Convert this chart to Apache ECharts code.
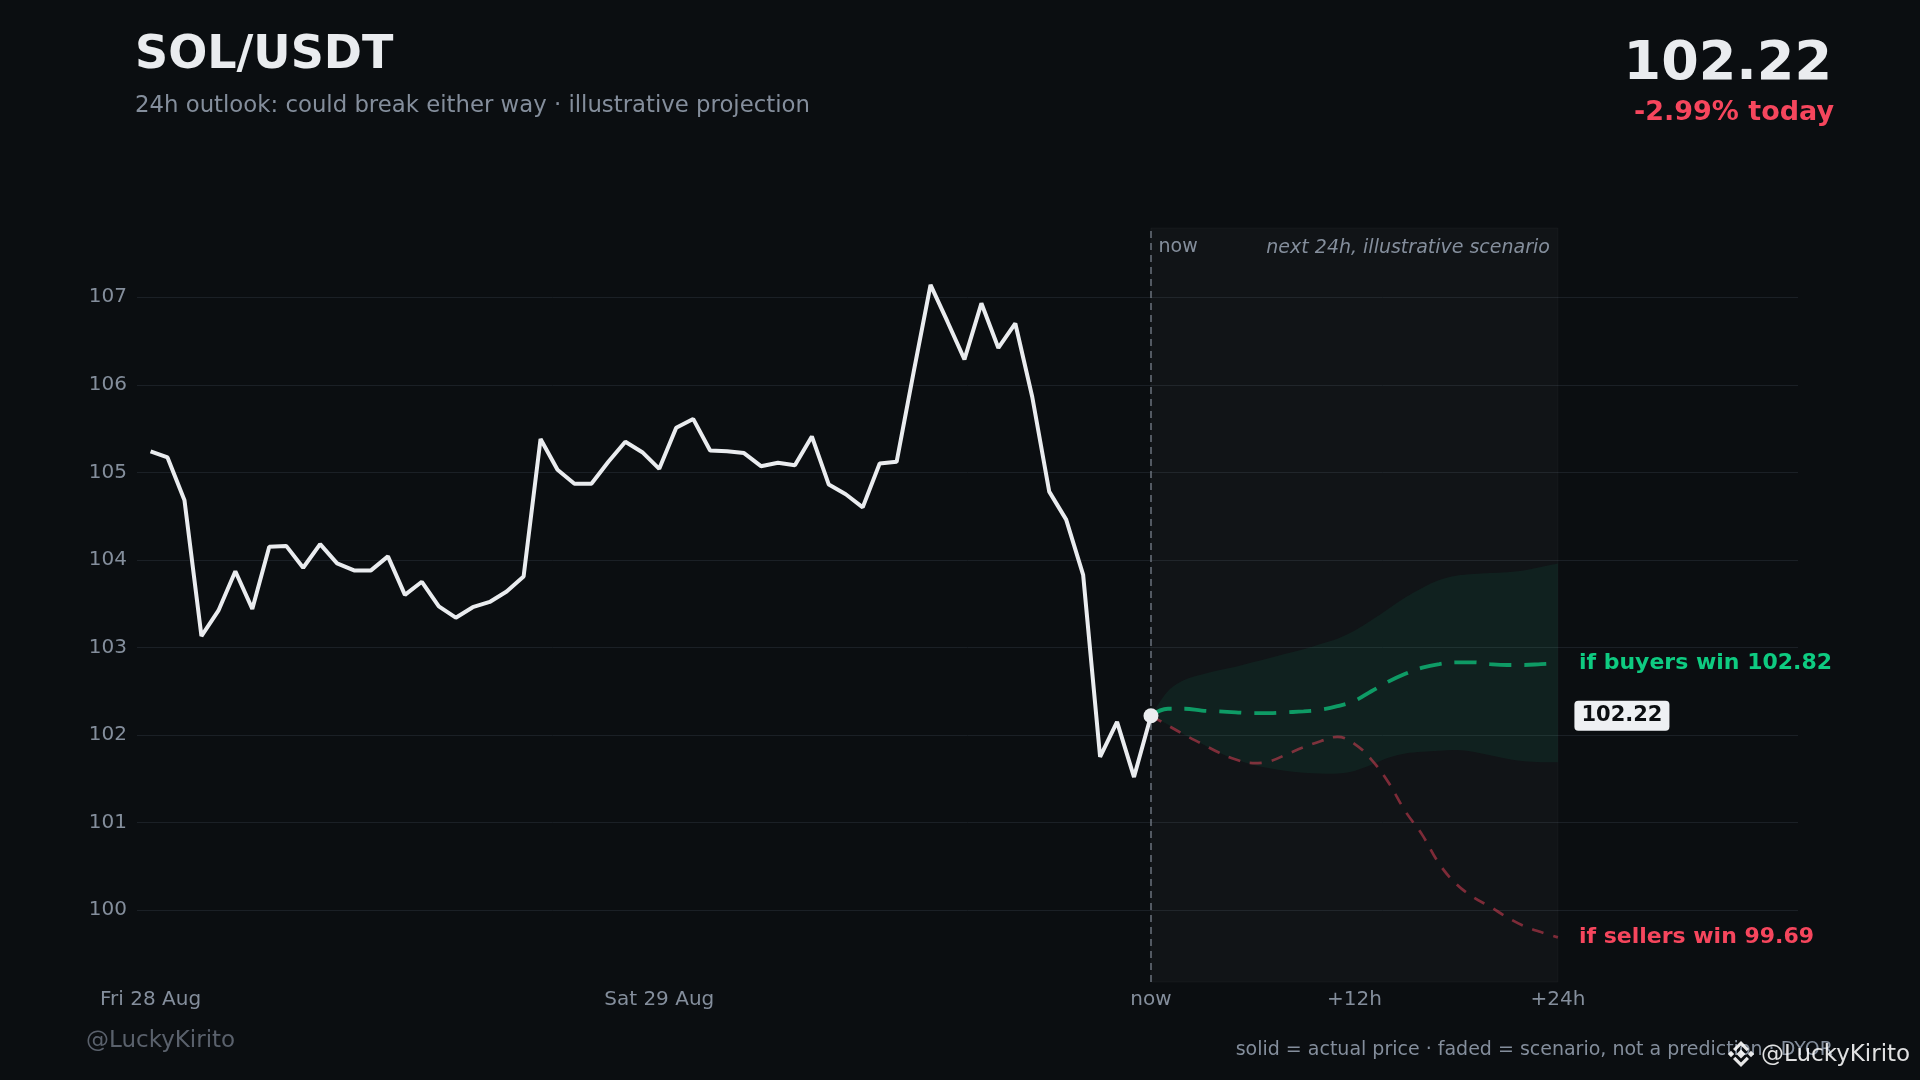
<!DOCTYPE html>
<html><head><meta charset="utf-8">
<script src="https://cdn.jsdelivr.net/npm/echarts@6/dist/echarts.min.js"></script>
<style>html,body{margin:0;padding:0;background:#0b0e11;}#c{width:1920px;height:1080px;}</style>
</head><body><div id="c"></div>
<script>
// ---- data ----
const pairName = 'SOL/USDT';
const subtitleText = '24h outlook: could break either way · illustrative projection';
const changeText = '-2.99% today';
const priceValues = [
  105.24,105.17,104.68,103.13,103.42,103.87,103.44,104.15,104.16,103.91,
  104.18,103.96,103.88,103.88,104.04,103.60,103.75,103.47,103.34,103.46,
  103.52,103.64,103.81,105.38,105.03,104.87,104.87,105.12,105.35,105.23,
  105.04,105.51,105.61,105.25,105.24,105.22,105.07,105.11,105.08,105.41,
  104.86,104.75,104.60,105.10,105.12,106.14,107.14,106.72,106.29,106.93,
  106.42,106.70,105.86,104.78,104.46,103.83,101.75,102.15,101.52,102.22
];
const futureHours = [0,1,2,3,4,5,6,7,8,9,10,11,12,13,14,15,16,17,18,19,20,21,22,23,24];
const buyersPath = [
  102.22,102.30,102.30,102.28,102.27,102.26,102.25,102.25,102.26,102.27,
  102.29,102.33,102.39,102.50,102.61,102.70,102.77,102.81,102.83,102.83,
  102.81,102.80,102.80,102.81,102.82
];
const sellersPath = [
  102.22,102.11,102.00,101.90,101.80,101.72,101.68,101.70,101.78,101.86,
  101.93,101.98,101.90,101.72,101.46,101.13,100.86,100.53,100.30,100.15,
  100.04,99.92,99.82,99.75,99.69
];
const bandUpper = [
  102.22,102.50,102.63,102.69,102.74,102.78,102.83,102.88,102.93,102.98,
  103.04,103.10,103.19,103.31,103.44,103.57,103.68,103.77,103.82,103.84,
  103.85,103.86,103.88,103.92,103.96
];
const bandLower = [
  102.22,102.12,102.00,101.90,101.80,101.72,101.66,101.62,101.59,101.57,
  101.56,101.56,101.59,101.66,101.74,101.79,101.81,101.82,101.83,101.81,
  101.77,101.73,101.70,101.69,101.69
];
const xTickValues = [0, 30, 59, 71, 83];
const xTickLabels = ['Fri 28 Aug', 'Sat 29 Aug', 'now', '+12h', '+24h'];
const yTickValues = [100, 101, 102, 103, 104, 105, 106, 107];

// ---- chart ----
const FONT = '"DejaVu Sans"';
const nowIndex = priceValues.length - 1;
const lastPrice = priceValues[nowIndex];
const endIndex = nowIndex + futureHours[futureHours.length - 1];
const fut = arr => arr.map((v, h) => [nowIndex + futureHours[h], v]);

function smoothSegs(pts) {
  let d = '';
  for (let i = 0; i < pts.length - 1; i++) {
    const p0 = pts[Math.max(i - 1, 0)], p1 = pts[i], p2 = pts[i + 1], p3 = pts[Math.min(i + 2, pts.length - 1)];
    const t = 1 / 6;
    const c1 = [p1[0] + (p2[0] - p0[0]) * t, p1[1] + (p2[1] - p0[1]) * t];
    const c2 = [p2[0] - (p3[0] - p1[0]) * t, p2[1] - (p3[1] - p1[1]) * t];
    d += ' C' + c1[0] + ',' + c1[1] + ' ' + c2[0] + ',' + c2[1] + ' ' + p2[0] + ',' + p2[1];
  }
  return d;
}

const chart = echarts.init(document.getElementById('c'), null, {renderer: 'canvas'});
const option = {
  backgroundColor: '#0b0e11',
  animation: false,
  textStyle: {fontFamily: 'DejaVu Sans'},
  grid: {left: 137, right: 122, top: 228, bottom: 98},
  xAxis: {
    type: 'value', min: -0.8, max: 97.16,
    axisLine: {show: false}, axisTick: {show: false, customValues: xTickValues},
    splitLine: {show: false},
    axisLabel: {
      customValues: xTickValues,
      formatter: v => { const i = xTickValues.indexOf(v); return i >= 0 ? xTickLabels[i] : ''; },
      color: '#848e9c', fontSize: 20, margin: 8, fontFamily: 'DejaVu Sans'
    }
  },
  yAxis: {
    type: 'value', min: 99.18, max: 107.79,
    axisLine: {show: false},
    axisTick: {show: false, customValues: yTickValues},
    splitLine: {show: true, customValues: yTickValues, lineStyle: {color: '#1b2026', width: 1}},
    axisLabel: {customValues: yTickValues, color: '#848e9c', fontSize: 20, margin: 10,
      padding: [5, 0, 0, 0], fontFamily: 'DejaVu Sans'}
  },
  series: [
    {
      name: 'region', type: 'line', data: [], z: 1, silent: true,
      markArea: {
        silent: true,
        itemStyle: {color: 'rgba(255,255,255,0.028)', borderColor: 'rgba(255,255,255,0.03)', borderWidth: 1},
        label: {show: true, position: 'insideTopLeft', formatter: 'now', color: '#848e9c',
          fontSize: 19, distance: 8, lineHeight: 24, fontFamily: 'DejaVu Sans'},
        data: [[{xAxis: nowIndex}, {xAxis: endIndex}]]
      }
    },
    {
      name: 'regionNote', type: 'line', data: [], z: 1, silent: true,
      markArea: {
        silent: true,
        itemStyle: {color: 'rgba(0,0,0,0)'},
        label: {show: true, position: 'insideTopRight', formatter: 'next 24h, illustrative scenario',
          color: '#848e9c', fontSize: 19, fontStyle: 'italic', distance: 8, lineHeight: 24, fontFamily: 'DejaVu Sans'},
        data: [[{xAxis: nowIndex}, {xAxis: endIndex}]]
      }
    },
    {
      name: 'band', type: 'custom', z: 2, silent: true, clip: false,
      data: [[nowIndex, lastPrice]],
      renderItem: (params, api) => {
        const up = bandUpper.map((v, h) => api.coord([nowIndex + futureHours[h], v]));
        const low = bandLower.map((v, h) => api.coord([nowIndex + futureHours[h], v])).reverse();
        const d = 'M' + up[0][0] + ',' + up[0][1] + smoothSegs(up) +
          ' L' + low[0][0] + ',' + low[0][1] + smoothSegs(low) + ' Z';
        return {type: 'path', shape: {pathData: d}, style: {fill: 'rgba(14,203,129,0.075)'}};
      }
    },
    {
      name: 'sellers', type: 'line', data: fut(sellersPath), smooth: 0.4, symbol: 'none', z: 3, silent: true,
      lineStyle: {color: 'rgba(246,70,93,0.48)', width: 2.7, type: [12, 10]},
      endLabel: {show: true, formatter: p => 'if sellers win ' + p.value[1].toFixed(2),
        color: '#f6465d', fontSize: 22, fontWeight: 'bold', distance: 21, fontFamily: 'DejaVu Sans'}
    },
    {
      name: 'buyers', type: 'line', data: fut(buyersPath), smooth: 0.4, symbol: 'none', z: 4, silent: true,
      lineStyle: {color: 'rgba(14,203,129,0.72)', width: 3.8, type: [22, 13]},
      endLabel: {show: true, formatter: p => 'if buyers win ' + p.value[1].toFixed(2),
        color: '#0ecb81', fontSize: 22, fontWeight: 'bold', distance: 21, fontFamily: 'DejaVu Sans'}
    },
    {
      name: 'price', type: 'line', data: priceValues.map((v, i) => [i, v]), showSymbol: false, z: 6, silent: true,
      lineStyle: {color: '#eaecef', width: 4},
      markLine: {silent: true, symbol: 'none', label: {show: false},
        lineStyle: {color: '#6a717c', type: [7, 5], width: 1.5},
        data: [{xAxis: nowIndex}]}
    },
    {
      name: 'nowDot', type: 'scatter', data: [[nowIndex, lastPrice]], symbolSize: 15, z: 8, silent: true,
      itemStyle: {color: '#eaecef', opacity: 1}
    },
    {
      name: 'priceTag', type: 'scatter', data: [[endIndex, lastPrice]], symbolSize: 1, z: 8, silent: true,
      itemStyle: {color: 'rgba(0,0,0,0)', opacity: 1},
      label: {show: true, position: 'right', distance: 16, formatter: p => p.value[1].toFixed(2),
        backgroundColor: '#eef0f3', color: '#0b0e11', fontSize: 21, fontWeight: 'bold', opacity: 1,
        padding: [5, 7, 4, 7], borderRadius: 4, fontFamily: 'DejaVu Sans'}
    }
  ],
  graphic: [
    {type: 'text', x: 135, y: 56, style: {text: pairName, fill: '#eaecef', font: 'bold 46px ' + FONT, verticalAlign: 'middle'}},
    {type: 'text', x: 135, y: 106, style: {text: subtitleText, fill: '#848e9c', font: '22.8px ' + FONT, verticalAlign: 'middle'}},
    {type: 'text', x: 1832, y: 65, style: {text: lastPrice.toFixed(2), fill: '#eaecef', font: 'bold 54px ' + FONT, align: 'right', verticalAlign: 'middle'}},
    {type: 'text', x: 1834, y: 113, style: {text: changeText, fill: '#f6465d', font: 'bold 27px ' + FONT, align: 'right', verticalAlign: 'middle'}},
    {type: 'text', x: 86, y: 1041, style: {text: '@LuckyKirito', fill: '#5a616c', font: '23px ' + FONT, verticalAlign: 'middle'}},
    {type: 'text', x: 1833, y: 1050, style: {text: 'solid = actual price · faded = scenario, not a prediction · DYOR', fill: '#848e9c', font: '19px ' + FONT, align: 'right', verticalAlign: 'middle'}},
    {type: 'group', x: 1741, y: 1054, children: [
      {type: 'polygon', shape: {points: [[0,-4.5],[4.5,0],[0,4.5],[-4.5,0]]}, style: {fill: 'rgba(255,255,255,0.9)'}},
      {type: 'polygon', shape: {points: [[-10,-3.2],[-6.8,0],[-10,3.2],[-13.2,0]]}, style: {fill: 'rgba(255,255,255,0.9)'}},
      {type: 'polygon', shape: {points: [[10,-3.2],[13.2,0],[10,3.2],[6.8,0]]}, style: {fill: 'rgba(255,255,255,0.9)'}},
      {type: 'polygon', shape: {points: [[-8,-5],[0,-13],[8,-5],[5.7,-2.7],[0,-8.4],[-5.7,-2.7]]}, style: {fill: 'rgba(255,255,255,0.9)'}},
      {type: 'polygon', shape: {points: [[-8,5],[0,13],[8,5],[5.7,2.7],[0,8.4],[-5.7,2.7]]}, style: {fill: 'rgba(255,255,255,0.9)'}}
    ]},
    {type: 'text', x: 1761, y: 1055, style: {text: '@LuckyKirito', fill: 'rgba(255,255,255,0.88)', font: '23px ' + FONT, verticalAlign: 'middle'}}
  ]
};
chart.setOption(option);
</script>
</body></html>
